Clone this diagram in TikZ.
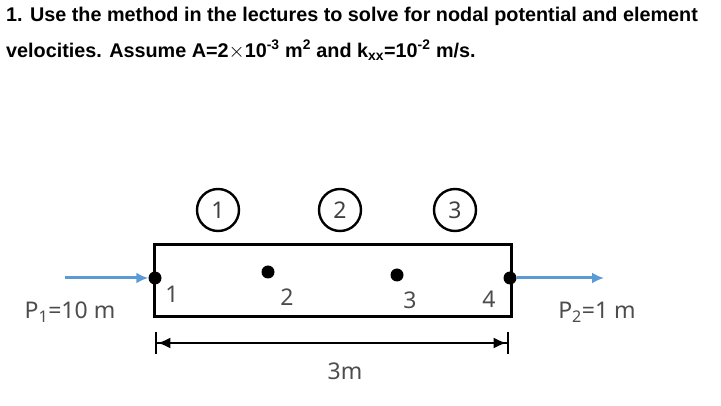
\documentclass[tikz,border=0pt]{standalone}
\usepackage{fontspec}
\setmainfont{Liberation Sans}
\newfontfamily\lblfont{Noto Sans}
\usetikzlibrary{arrows.meta}
\begin{document}
\begin{tikzpicture}[x=1pt,y=-1pt,
  lbl/.style={font=\lblfont\fontsize{23}{25}\selectfont,text=black!70,inner sep=0pt},
  elem/.style={circle,draw,line width=2.4pt,minimum size=42pt,inner sep=0pt,font=\lblfont\fontsize{23}{25}\selectfont,text=black!75},
  nd/.style={circle,fill=black,minimum size=13pt,inner sep=0pt},
  flow/.style={-{Latex[length=12pt,width=11pt]},line width=3pt,color={rgb,255:red,91;green,155;blue,213}}]
\useasboundingbox (0,0) rectangle (721,406);
\node[anchor=west,font=\bfseries\fontsize{19.8}{22}\selectfont,inner sep=0pt] (t1) at (6,16) {1. Use the method in the lectures to solve for nodal potential and element};
\node[anchor=west,font=\bfseries\fontsize{19.8}{22}\selectfont,inner sep=0pt] (t2) at (6,50) {velocities. Assume A=2$\times$10\textsuperscript{-3} m\textsuperscript{2} and k\textsubscript{xx}=10\textsuperscript{-2} m/s.};
\node[draw,line width=3pt,minimum width=357pt,minimum height=72pt,anchor=north west,inner sep=0pt] (bar) at (153,243) {};
\node[elem] (e1) at (218,210) {1};
\node[elem] (e2) at (340,210) {2};
\node[elem] (e3) at (455,210) {3};
\node[nd] (n1) at (155,278) {};
\node[nd] (n2) at (268,272) {};
\node[nd] (n3) at (397,275) {};
\node[nd] (n4) at (510,278) {};
\node[lbl] (l1) at (172,294) {1};
\node[lbl] (l2) at (287,297) {2};
\node[lbl] (l3) at (410,300) {3};
\node[lbl] (l4) at (489,299) {4};
\coordinate (a0) at (65,278);
\coordinate (b1) at (604,278);
\draw[flow] (a0) -- (n1.west);
\draw[flow] (n4.east) -- (b1);
\node[lbl] (p1) at (70,312) {P\textsubscript{1}=10 m};
\node[lbl] (p2) at (597,312) {P\textsubscript{2}=1 m};
\coordinate (d1) at (155,343);
\coordinate (d2) at (509,343);
\draw[line width=2.4pt,{Bar[width=22pt]Latex[length=13pt,width=11pt]}-{Latex[length=13pt,width=11pt]Bar[width=22pt]}] (d1) -- (d2);
\node[lbl] (dim) at (345,371) {3m};
\end{tikzpicture}
\end{document}
